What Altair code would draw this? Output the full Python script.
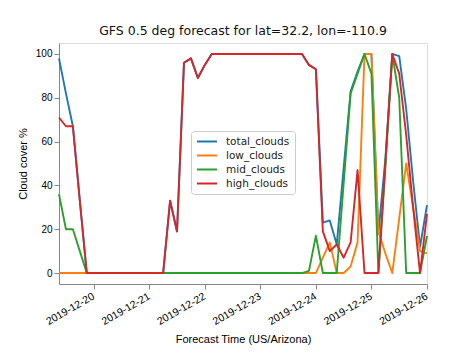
import altair as alt
import pandas as pd

series_names = ["total_clouds", "low_clouds", "mid_clouds", "high_clouds"]
series_colors = ["#1f77b4", "#ff7f0e", "#2ca02c", "#d62728"]

# 3-hourly forecast times (local US/Arizona time)
times = pd.date_range("2019-12-19 09:00", periods=54, freq="3h").strftime("%Y-%m-%dT%H:%M:%S").tolist()

total_clouds = [98, 82, 67, 33, 0, 0, 0, 0, 0, 0, 0, 0, 0, 0, 0, 0, 33, 19, 96, 98,
                89, 95, 100, 100, 100, 100, 100, 100, 100, 100, 100, 100, 100, 100, 100, 100,
                95, 93, 23, 24, 13, 48, 83, 92, 100, 100, 18, 52, 100, 99, 75, 42, 12, 31]
low_clouds = [0, 0, 0, 0, 0, 0, 0, 0, 0, 0, 0, 0, 0, 0, 0, 0, 0, 0, 0, 0,
              0, 0, 0, 0, 0, 0, 0, 0, 0, 0, 0, 0, 0, 0, 0, 0,
              0, 0, 7, 14, 0, 0, 3, 14, 100, 100, 19, 9, 0, 25, 50, 30, 10, 9]
mid_clouds = [36, 20, 20, 10, 0, 0, 0, 0, 0, 0, 0, 0, 0, 0, 0, 0, 0, 0, 0, 0,
              0, 0, 0, 0, 0, 0, 0, 0, 0, 0, 0, 0, 0, 0, 0, 0,
              1, 17, 0, 0, 0, 41, 82, 91, 100, 91, 0, 48, 100, 80, 0, 0, 0, 17]
high_clouds = [71, 67, 67, 33, 0, 0, 0, 0, 0, 0, 0, 0, 0, 0, 0, 0, 33, 19, 96, 98,
               89, 95, 100, 100, 100, 100, 100, 100, 100, 100, 100, 100, 100, 100, 100, 100,
               95, 93, 19, 10, 13, 7, 14, 47, 0, 0, 0, 50, 100, 91, 63, 30, 0, 27]

tick_days = [(2019, 12, d) for d in [20, 21, 22, 23, 24, 25, 26]]

values = {"total_clouds": total_clouds, "low_clouds": low_clouds,
          "mid_clouds": mid_clouds, "high_clouds": high_clouds}
rows = []
for name in series_names:
    for t, v in zip(times, values[name]):
        rows.append({"time": t, "series": name, "value": v})
df = pd.DataFrame(rows)

FONT = "DejaVu Sans"

x_enc = alt.X(
    "time:T",
    title="Forecast Time (US/Arizona)",
    scale=alt.Scale(
        domain=[alt.DateTime(year=2019, month=12, date=19, hours=9),
                alt.DateTime(year=2019, month=12, date=26, hours=0)],
        nice=False,
    ),
    axis=alt.Axis(
        values=[alt.DateTime(year=y, month=m, date=d) for (y, m, d) in tick_days],
        format="%Y-%m-%d",
        labelAngle=-30,
        labelAlign="right",
        labelBaseline="top",
        labelOffset=-3,
        labelFontSize=10.5,
        grid=False,
        titlePadding=7,
        titleFontWeight="normal",
    ),
)
y_enc = alt.Y(
    "value:Q",
    title="Cloud cover %",
    scale=alt.Scale(domain=[-5, 105], nice=False, zero=False),
    axis=alt.Axis(values=[0, 20, 40, 60, 80, 100], grid=False, titlePadding=7,
                  titleFontWeight="normal"),
)
color_enc = alt.Color(
    "series:N",
    scale=alt.Scale(domain=series_names, range=series_colors),
    sort=series_names,
    legend=alt.Legend(
        title=None,
        orient="none",
        legendX=132,
        legendY=88,
        symbolType="stroke",
        symbolStrokeWidth=2,
        symbolSize=400,
        clipHeight=11,
        rowPadding=3,
        labelFontSize=10.5,
        labelFont=FONT,
        labelColor="#222222",
        labelOffset=8,
        padding=5,
        strokeColor="#cccccc",
        fillColor="white",
        cornerRadius=3,
    ),
)

layers = []
for name in series_names:
    layers.append(
        alt.Chart(df)
        .transform_filter(alt.datum.series == name)
        .mark_line(strokeWidth=1.9, strokeJoin="round")
        .encode(x=x_enc, y=y_enc, color=color_enc)
    )

chart = (
    alt.layer(*layers)
    .properties(
        width=368,
        height=241,
        autosize=alt.AutoSizeParams(type="none"),
        padding={"left": 59, "top": 43, "right": 47, "bottom": 71},
        title=alt.Title("GFS 0.5 deg forecast for lat=32.2, lon=-110.9",
                        fontSize=12.5, font=FONT, fontWeight="normal",
                        color="#111111", offset=6),
    )
    .configure_view(stroke="black", strokeWidth=1)
    .configure_axis(
        domainColor="black",
        tickColor="black",
        tickSize=4,
        labelFont=FONT,
        labelFontSize=10,
        labelColor="#222222",
        labelPadding=3,
        titleFont=FONT,
        titleFontSize=10.5,
        titleFontWeight="normal",
        titleColor="#222222",
    )
    .configure(background="white")
)

chart.save("out.html", embed_options={"renderer": "svg", "actions": False})
